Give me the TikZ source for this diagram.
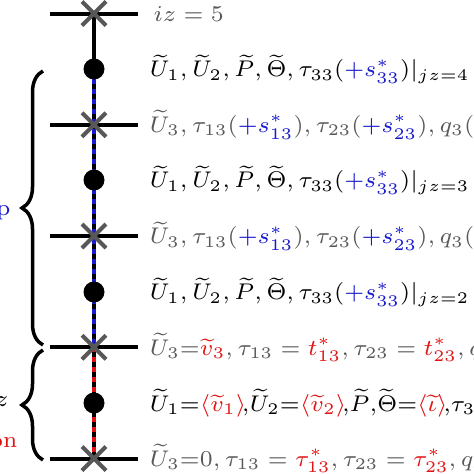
\documentclass[tikz,border=0pt]{standalone}
\usepackage{amsmath}
\usepackage{amssymb}
\usepackage{tikz}
\usetikzlibrary{positioning,decorations.pathreplacing,shapes.misc}
\definecolor{gridgray}{RGB}{88,88,88}
\definecolor{fluxblue}{RGB}{25,25,205}
\definecolor{bcred}{RGB}{225,20,20}
\tikzset{dot/.style = {circle,fill=black,inner sep=0pt,minimum size=21pt},
         cross/.style = {cross out,draw=gridgray,line width=4pt,inner sep=0pt,minimum size=20pt},
         gridline/.style = {line width=4pt},
         bluedash/.style = {line width=4pt,draw=fluxblue,dash pattern=on 5pt off 5pt},
         reddash/.style = {line width=4pt,draw=bcred,dash pattern=on 5pt off 5pt},
         lab/.style = {anchor=west,inner sep=0pt,font=\scriptsize,scale=3.24},
         bracelab/.style = {anchor=east,inner sep=0pt,font=\scriptsize,scale=3.24},
         curly/.style = {decorate,decoration={brace,amplitude=21pt},line width=3.5pt}}

\begin{document}
\begin{tikzpicture}[x=1pt,y=-1pt]
    \useasboundingbox (0,0) rectangle (474,474);
    \clip (0,0) rectangle (474,474);

    % grid levels and cell centres
    \foreach \k/\y in {5/13.5,4/124.75,3/236,2/347.25,1/458.5}
        \coordinate (iz\k) at (94,\y);
    \foreach \k/\y in {4/69,3/180,2/292,1/403}
        \coordinate (jz\k) at (94,\y);

    \foreach \k in {1,...,5}
        \draw[gridline] ([xshift=-44pt]iz\k) -- ([xshift=44pt]iz\k);
    \draw[gridline] (iz5) -- (iz1);
    \draw[bluedash] (jz4) -- (iz2);
    \draw[reddash] (iz2) -- (iz1);

    \foreach \k in {1,...,4}
        \node[dot] (dot\k) at (jz\k) {};
    \foreach \k in {1,...,5}
        \node[cross] (x\k) at (iz\k) {};

    % labels of the levels
    \node[lab,text=gridgray] (l5) at (153,13.5) {$iz=5$};
    \node[lab] (m4) at (149,69) {$\widetilde{U}_1,\widetilde{U}_2,\widetilde{P},\widetilde{\Theta},\tau_{33}(\textcolor{fluxblue}{+s^*_{33}})|_{jz=4}$};
    \node[lab,text=gridgray] (l4) at (149,124.75) {$\widetilde{U}_3,\tau_{13}(\textcolor{fluxblue}{+s^*_{13}}),\tau_{23}(\textcolor{fluxblue}{+s^*_{23}}),q_3($};
    \node[lab] (m3) at (149,180) {$\widetilde{U}_1,\widetilde{U}_2,\widetilde{P},\widetilde{\Theta},\tau_{33}(\textcolor{fluxblue}{+s^*_{33}})|_{jz=3}$};
    \node[lab,text=gridgray] (l3) at (149,236) {$\widetilde{U}_3,\tau_{13}(\textcolor{fluxblue}{+s^*_{13}}),\tau_{23}(\textcolor{fluxblue}{+s^*_{23}}),q_3($};
    \node[lab] (m2) at (149,292) {$\widetilde{U}_1,\widetilde{U}_2,\widetilde{P},\widetilde{\Theta},\tau_{33}(\textcolor{fluxblue}{+s^*_{33}})|_{jz=2}$};
    \node[lab,text=gridgray] (l2) at (149,347.25) {$\widetilde{U}_3{=}\textcolor{bcred}{\widetilde{v}_3},\tau_{13}=\textcolor{bcred}{t^*_{13}},\tau_{23}=\textcolor{bcred}{t^*_{23}},q_3$};
    \node[lab] (m1) at (149,403) {$\widetilde{U}_1{=}\textcolor{bcred}{\langle\widetilde{v}_1\rangle}\!{,}\widetilde{U}_2{=}\textcolor{bcred}{\langle\widetilde{v}_2\rangle}\!{,}\widetilde{P}{,}\widetilde{\Theta}{=}\textcolor{bcred}{\langle\widetilde{\iota}\rangle}\!{,}\tau_{33}$};
    \node[lab,text=gridgray] (l1) at (149,458.5) {$\widetilde{U}_3{=}0,\tau_{13}=\textcolor{bcred}{\tau^*_{13}},\tau_{23}=\textcolor{bcred}{\tau^*_{23}},q_3$};

    % braces
    \coordinate (b1top) at (43,71);
    \coordinate (b1bot) at (43,345);
    \coordinate (b2top) at (43,350);
    \coordinate (b2bot) at (43,460);
    \draw[curly] (b1bot) -- (b1top);
    \draw[curly] (b2bot) -- (b2top);
    \node[bracelab,text=fluxblue] (top) at (11,213) {p};
    \node[bracelab] (bot) at (9,402) {$z$};
    \node[bracelab,text=bcred] (bc) at (18,443) {on};
\end{tikzpicture}
\end{document}
